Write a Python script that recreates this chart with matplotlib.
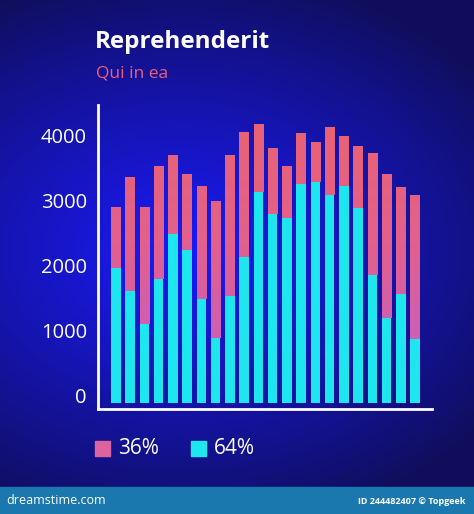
import numpy as np
import matplotlib
matplotlib.use("Agg")
import matplotlib.pyplot as plt
from matplotlib.colors import LinearSegmentedColormap
from matplotlib.patches import Rectangle
from matplotlib.transforms import ScaledTranslation

# data
cyan_vals = [2080, 1730, 1220, 1910, 2600, 2350, 1600, 1000, 1640, 2240, 3250,
             2910, 2850, 3370, 3400, 3200, 3340, 3000, 1970, 1310, 1670, 980]
totals = [3020, 3470, 3020, 3650, 3820, 3530, 3340, 3110, 3820, 4170, 4300,
          3930, 3650, 4150, 4020, 4240, 4110, 3960, 3840, 3530, 3330, 3200]
pink_vals = [t - c for t, c in zip(totals, cyan_vals)]
yticks = [0, 1000, 2000, 3000, 4000]
legend_labels = ["36%", "64%"]
title = "Reprehenderit"
subtitle = "Qui in ea"

W, H = 474, 514
fig = plt.figure(figsize=(W / 100, H / 100), dpi=100)
plt.rcParams['font.family'] = ['Open Sans', 'DejaVu Sans']

# background glow
bg = fig.add_axes([0, 0, 1, 1])
yy, xx = np.mgrid[0:H, 0:W]
r = np.sqrt(((xx - 180) / 380.0) ** 2 + ((yy - 250) / 280.0) ** 2)
t = np.clip(1 - r, 0, 1) ** 0.9
edge = np.array([16, 14, 92]) / 255
center = np.array([26, 26, 248]) / 255
img = edge[None, None, :] * (1 - t[..., None]) + center[None, None, :] * t[..., None]
bg.imshow(img, extent=[0, W, H, 0], aspect='auto')
bg.add_patch(Rectangle((0, 487), W, 27, color='#1a78ae'))
bg.set_xlim(0, W)
bg.set_ylim(H, 0)
bg.axis('off')

bg.text(95, 42, title, color='white', fontsize=17.5, fontweight='bold', va='center', ha='left')
bg.text(96, 73, subtitle, color='#ec5f78', fontsize=12.5, va='center', ha='left')

# legend
bg.add_patch(Rectangle((95, 441), 15, 15, color='#dc62a0'))
bg.text(118, 449, legend_labels[0], color='white', fontsize=15, va='center', ha='left')
bg.add_patch(Rectangle((191, 441), 15, 15, color='#1ee6ee'))
bg.text(214, 449, legend_labels[1], color='white', fontsize=15, va='center', ha='left')

bg.text(6, 501, "dreamstime.com", color='white', fontsize=9, va='center', ha='left')
bg.text(466, 501, "ID 244482407 \u00a9 Topgeek", color='white', fontsize=6.5,
        fontweight='bold', va='center', ha='right')

# chart
ax = fig.add_axes([98 / W, 1 - 409 / H, 334 / W, 304 / H])
ax.patch.set_alpha(0)
x = np.arange(len(cyan_vals))
width = 0.67
ax.bar(x, cyan_vals, width=width, color='#1ee6ee', linewidth=0)
pink_bars = ax.bar(x, pink_vals, bottom=cyan_vals, width=width, color='none', linewidth=0)

# pink gradient (top red-pink -> lower purple-pink)
cmap = LinearSegmentedColormap.from_list('pk', ['#c65fc2', '#e2608c', '#ea6272'])
grad = np.linspace(0, 1, 256).reshape(-1, 1)
for b in pink_bars:
    im = ax.imshow(grad, extent=[-1.26, 22.18, 500, 4400], origin='lower',
                   cmap=cmap, aspect='auto', zorder=2)
    im.set_clip_path(b)
ax.set_xlim(-1.26, 22.18)
ax.set_ylim(-92, 4585)

for s in ['top', 'right']:
    ax.spines[s].set_visible(False)
for s in ['left', 'bottom']:
    ax.spines[s].set_color('white')
    ax.spines[s].set_linewidth(2)
ax.set_xticks([])
ax.set_yticks(yticks)
ax.set_yticklabels([str(v) for v in yticks])
ax.tick_params(axis='y', length=0, pad=8, labelsize=14.5, labelcolor='white')
off = ScaledTranslation(0, 8 / 100, fig.dpi_scale_trans)
for lab in ax.get_yticklabels():
    lab.set_transform(lab.get_transform() + off)

fig.savefig('out.png', dpi=100)
